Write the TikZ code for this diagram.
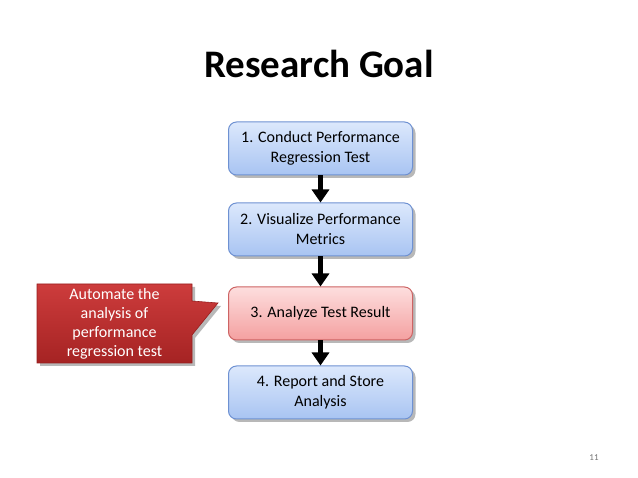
\documentclass[tikz,border=0pt]{standalone}
\usepackage{fontspec}
\setmainfont{Carlito}
\usepackage{tikz}
\usetikzlibrary{
  arrows.meta, positioning, shapes.callouts, shadows
}
\usepackage{xcolor}
\definecolor{steptop}{RGB}{220, 232, 252}
\definecolor{stepbot}{RGB}{168, 196, 242}
\definecolor{stepline}{RGB}{110, 145, 210}
\definecolor{hottop}{RGB}{253, 222, 222}
\definecolor{hotbot}{RGB}{244, 160, 160}
\definecolor{hotline}{RGB}{205, 100, 100}
\definecolor{notetop}{RGB}{205, 60, 60}
\definecolor{notebot}{RGB}{165, 35, 35}
\definecolor{noteline}{RGB}{150, 30, 30}

\begin{document}
\begin{tikzpicture}[
    x=1pt, y=-1pt,
    stepbox/.style={draw=stepline, line width=1pt, rounded corners=8pt,
                    top color=steptop, bottom color=stepbot,
                    minimum width=184pt, minimum height=53pt,
                    align=center, font=\fontsize{16}{20}\selectfont,
                    drop shadow={shadow xshift=3pt, shadow yshift=-3pt,
                                 fill=black!35, opacity=0.8}},
    hotbox/.style={stepbox, draw=hotline, top color=hottop, bottom color=hotbot},
    arrow/.style={-{Triangle[length=13pt, width=17pt]}, line width=4.5pt, black},
  ]
    \useasboundingbox (0,0) rectangle (638,478);

    % Title
    \node[font=\fontsize{39}{44}\selectfont\bfseries] (title) at (319,64) {Research Goal};

    % Steps
    \node[stepbox] (conduct) at (320.5,148.5) {1. Conduct Performance\\Regression Test};
    \node[stepbox] (visual) at (320.5,229.5) {2. Visualize Performance\\Metrics};
    \node[hotbox] (analyze) at (320.5,313.5) {3. Analyze Test Result};
    \node[stepbox] (report) at (320.5,392.5) {4. Report and Store\\Analysis};

    % Arrows
    \draw[arrow] (conduct) -- (visual);
    \draw[arrow] (visual) -- (analyze);
    \draw[arrow] (analyze) -- (report);

    % Callout
    \coordinate (tip) at (218,303);
    \node[rectangle callout, callout absolute pointer={(tip)},
          callout pointer width=34pt,
          draw=noteline, line width=0.6pt,
          top color=notetop, bottom color=notebot,
          minimum width=155pt, minimum height=79pt, inner sep=2pt,
          text=white, align=center, font=\fontsize{16}{19}\selectfont,
          drop shadow={shadow xshift=3pt, shadow yshift=-3pt,
                       fill=black!35, opacity=0.8}]
      (note) at (114.5,323.5) {Automate the\\analysis of\\performance\\regression test};

    % Page number
    \node[font=\fontsize{9}{11}\selectfont, text=black!55] (page) at (594,458) {11};
\end{tikzpicture}
\end{document}
